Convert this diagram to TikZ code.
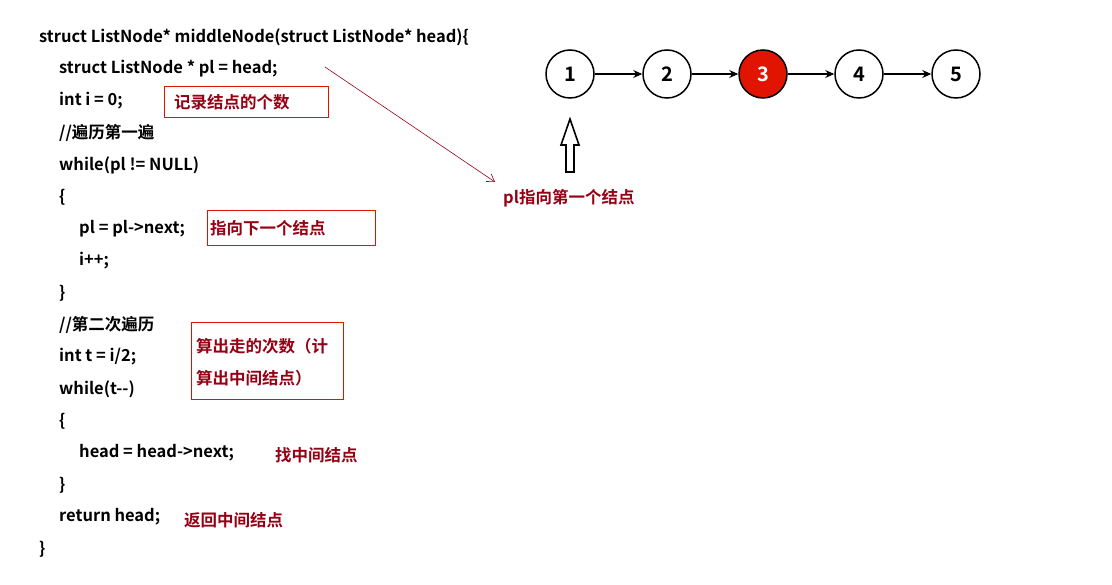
\documentclass[tikz,border=0pt]{standalone}
\usepackage{fontspec}
\setmainfont{Noto Sans CJK SC}[BoldFont={* Bold}]
\usetikzlibrary{arrows.meta}
\definecolor{dred}{RGB}{150,0,20}
\definecolor{nred}{RGB}{225,20,0}
\begin{document}
\begin{tikzpicture}[x=1pt,y=-1pt,
  code/.style={anchor=west,inner sep=0pt,font=\fontsize{16.5}{16.5}\selectfont\bfseries},
  note/.style={anchor=west,inner sep=0pt,text=dred,font=\fontsize{16.5}{16.5}\selectfont\bfseries},
  nbox/.style={draw=nred,line width=0.6pt},
  ln/.style={circle,draw,line width=1.5pt,minimum size=48pt,inner sep=0pt,font=\fontsize{20}{20}\selectfont\bfseries},
  lk/.style={-{Stealth[length=9pt,width=8pt]},line width=1.1pt}]
\useasboundingbox (0,0) rectangle (1112,585);
\node[code] (l1) at (39,37) {struct ListNode* middleNode(struct ListNode* head)\{};
\node[code] (l2) at (59,69) {struct ListNode * pl = head;};
\node[code] (l3) at (59,101) {int i = 0;};
\node[code] (l4) at (59,133) {//遍历第一遍};
\node[code] (l5) at (59,165) {while(pl != NULL)};
\node[code] (l6) at (59,197) {\{};
\node[code] (l7) at (79,229) {pl = pl-{}>next;};
\node[code] (l8) at (79,261) {i{}+{}+;};
\node[code] (l9) at (59,293) {\}};
\node[code] (l10) at (59,325) {//第二次遍历};
\node[code] (l11) at (59,357) {int t = i/2;};
\node[code] (l12) at (59,389) {while(t-{}-)};
\node[code] (l13) at (59,421) {\{};
\node[code] (l14) at (79,453) {head = head-{}>next;};
\node[code] (l15) at (59,485) {\}};
\node[code] (l16) at (59,517) {return head;};
\node[code] (l17) at (39,549) {\}};
\draw[nbox] (164,86) rectangle (328,117);
\node[note] (n1) at (174,102) {记录结点的个数};
\draw[nbox] (207,210) rectangle (375,245);
\node[note] (n2) at (210,228) {指向下一个结点};
\draw[nbox] (191,322) rectangle (343,399);
\node[note] (n3a) at (196,346) {算出走的次数（计};
\node[note] (n3b) at (196,378) {算出中间结点）};
\node[note] (n4) at (275,455) {找中间结点};
\node[note] (n5) at (184,520) {返回中间结点};
\node[note] (n6) at (503,198) {pl指向第一个结点};
\coordinate (s) at (325,67);
\coordinate (e) at (495,182);
\draw[dred,line width=0.6pt,-{Straight Barb[length=7pt,width=9pt]}] (s) -- (e);
\node[ln] (c1) at (570,74) {1};
\node[ln] (c2) at (667,74) {2};
\node[ln,fill=nred,text=white] (c3) at (763,74) {3};
\node[ln] (c4) at (859,74) {4};
\node[ln] (c5) at (956,74) {5};
\draw[lk] (c1) -- (c2);
\draw[lk] (c2) -- (c3);
\draw[lk] (c3) -- (c4);
\draw[lk] (c4) -- (c5);
\draw[line width=1.6pt,line join=miter] (566,172) -- (574,172) -- (574,145) -- (579,145) -- (570,119) -- (561,145) -- (566,145) -- cycle;
\end{tikzpicture}
\end{document}
